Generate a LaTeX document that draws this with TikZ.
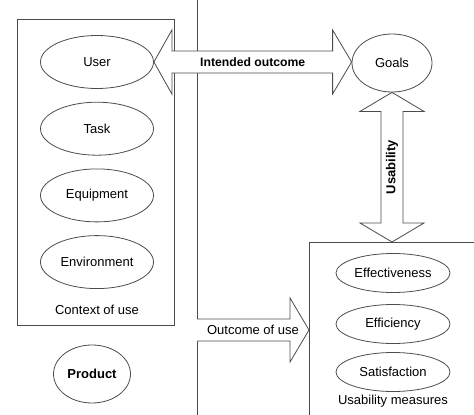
\documentclass[tikz,border=0pt]{standalone}
\usepackage{fontspec}
\setmainfont{Liberation Sans}
\usetikzlibrary{shapes.geometric,calc}

\begin{document}
\begin{tikzpicture}[x=1pt, y=-1pt,
  font=\fontsize{13}{15}\selectfont,
  fb/.style={font=\fontsize{13}{15}\selectfont\bfseries},
  ln/.style={draw=black!70, line width=0.8pt},
  el/.style={ln, ellipse, inner sep=0pt},
  bx/.style={ln, anchor=north west, inner sep=0pt},
  blk/.style={ln, fill=white, line join=miter},
]
\useasboundingbox (0,0) rectangle (474,415);
\clip (0,0) rectangle (474,415);
% divider
\coordinate (dt) at (197,0);
\coordinate (db) at (197,415);
\draw[ln] (dt) -- (db);
% context of use
\node[bx, minimum width=157pt, minimum height=306pt] (C) at (17,19) {};
\foreach \n/\t [count=\i from 0] in {cu/User, ct/Task, ce/Equipment,
    cv/Environment} {
  \node[el, minimum width=113pt, minimum height=53pt] (\n)
    at (97,{62+66.7*\i}) {\t};
}
\node (cl) at (97,310) {Context of use};
\node[el, fb, minimum width=77pt, minimum height=58pt] (P) at (92,374)
  {Product};
% goals
\node[el, minimum width=80pt, minimum height=58pt] (G) at (392,63) {Goals};
% usability measures
\node[bx, minimum width=180pt, minimum height=190pt] (M) at (309,242) {};
\foreach \n/\t/\y in {me/Effectiveness/273, mf/Efficiency/324,
    ms/Satisfaction/372} {
  \node[el, minimum width=114pt, minimum height=39pt] (\n) at (393,\y) {\t};
}
\node (ml) at (393,401) {Usability measures};
% intended outcome
\coordinate (it) at (G.west |- cu.east);
\draw[blk] (cu.east) -- ++(18,-32) -- ++(0,21)
  -- ([shift={(-19,-11)}]it) -- ++(0,-21) -- (it) -- ++(-19,32)
  -- ++(0,-21) -- ([shift={(18,11)}]cu.east) -- ++(0,21) -- cycle;
\node[font=\fontsize{12.2}{14}\selectfont\bfseries] (il)
  at ($(cu.east)!0.5!(it)$) {Intended outcome};
% usability
\coordinate (ub) at (G.south |- M.north);
\draw[blk] (G.south) -- ++(32,19) -- ++(-21,0)
  -- ([shift={(11,-19)}]ub) -- ++(21,0) -- (ub) -- ++(-32,-19)
  -- ++(21,0) -- ([shift={(-11,19)}]G.south) -- ++(-21,0) -- cycle;
\node[fb, rotate=90] (ul) at ($(G.south)!0.5!(ub)$) {Usability};
% outcome of use
\coordinate (ot) at (dt |- 0,330);
\coordinate (oh) at (M.west |- ot);
\draw[blk] ([shift={(0,-11)}]ot) -- ([shift={(-19,-11)}]oh) -- ++(0,-21)
  -- (oh) -- ++(-19,32) -- ++(0,-21) -- ([shift={(0,11)}]ot);
\node (ol) at ($(ot)!0.5!(oh)$) {Outcome of use};
\end{tikzpicture}
\end{document}
